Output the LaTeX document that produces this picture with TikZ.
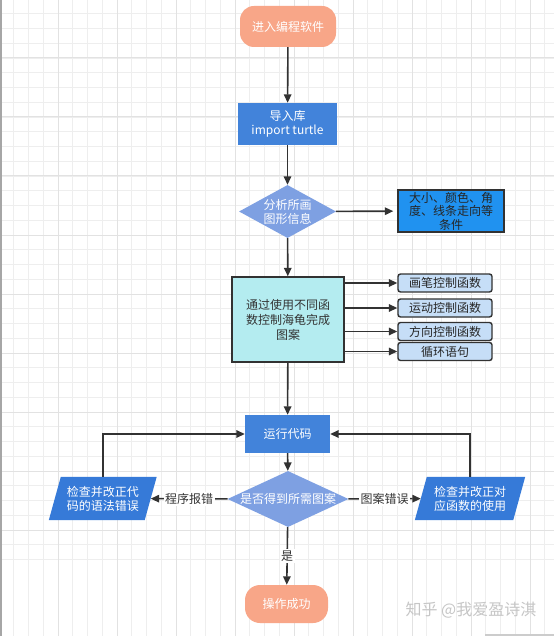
\documentclass[tikz,border=0pt]{standalone}
\usepackage{fontspec}
\setmainfont{Noto Sans CJK SC}
\usetikzlibrary{shapes.geometric,arrows.meta}
\definecolor{salmon}{RGB}{248,166,136}
\definecolor{midblue}{RGB}{66,131,218}
\definecolor{dia}{RGB}{126,160,226}
\definecolor{brightblue}{RGB}{32,146,240}
\definecolor{cyanfill}{RGB}{180,236,240}
\definecolor{lightfn}{RGB}{198,222,247}
\definecolor{parblue}{RGB}{54,122,216}
\definecolor{linec}{RGB}{50,50,50}
\definecolor{gridminor}{RGB}{238,238,238}
\definecolor{gridmajor}{RGB}{226,226,226}
\pgfdeclarelayer{gridlayer}
\pgfdeclarelayer{bg}
\pgfsetlayers{gridlayer,bg,main}
\tikzset{
  txt/.style={font=\fontsize{12}{14}\selectfont, align=center, inner sep=0pt},
  pill/.style={txt, fill=salmon, text=white, rounded corners=14pt},
  bluebox/.style={txt, fill=midblue, text=white},
  diam/.style={txt, diamond, fill=dia, text=white},
  brightbox/.style={txt, fill=brightblue, draw=linec, line width=1.4pt, text=black!85, font=\fontsize{12}{13.5}\selectfont},
  cyanbox/.style={txt, fill=cyanfill, draw=linec, line width=1.4pt, text=black!80, font=\fontsize{12}{15}\selectfont},
  fnbox/.style={txt, fill=lightfn, draw=linec, line width=1.4pt, rounded corners=2.5pt, text=black!85, minimum width=94pt, minimum height=18pt},
  parnode/.style={txt, text=white, minimum height=43pt},
  arr/.style={draw=linec, line width=1.6pt, -{Triangle[length=8.5pt,width=7.5pt]}},
  lbl/.style={txt, fill=white, text=black!80, inner sep=1.5pt}
}
\begin{document}
\begin{tikzpicture}[x=1pt,y=-1pt]
\useasboundingbox (0,0) rectangle (554,636);
\begin{pgfonlayer}{gridlayer}
\fill[white] (0,0) rectangle (554,636);
\foreach \k in {0,...,38} {
  \pgfmathsetmacro\p{-1+\k*14.75}
  \draw[gridminor, line width=0.8pt] (\p,0) -- (\p,636);
  \draw[gridminor, line width=0.8pt] (0,\p) -- (554,\p);
}
\foreach \k in {0,4,...,36} {
  \pgfmathsetmacro\p{-1+\k*14.75}
  \draw[gridmajor, line width=1pt] (\p,0) -- (\p,636);
  \draw[gridmajor, line width=1pt] (0,\p) -- (554,\p);
}
\draw[gray!70, line width=1.2pt] (1,0) -- (1,636);
\draw[gray!40, line width=1.2pt] (485,635) -- (554,635);
\end{pgfonlayer}

\node[pill, minimum width=96pt, minimum height=41pt] (start) at (288,26.5) {进入编程软件};
\node[bluebox, minimum width=99pt, minimum height=42pt] (imp) at (287.5,124) {导入库\\import turtle};
\node[diam, minimum width=97pt, minimum height=53pt, aspect=1.83] (ana) at (287.5,211.5) {分析所画\\图形信息};
\node[brightbox, minimum width=106pt, minimum height=42pt] (cond) at (451,211) {大小、颜色、角\\度、线条走向等\\条件};
\node[cyanbox, minimum width=112pt, minimum height=85pt] (use) at (288,319.5) {通过使用不同函\\数控制海龟完成\\图案};
\node[fnbox] (f1) at (445,283) {画笔控制函数};
\node[fnbox] (f2) at (445,308) {运动控制函数};
\node[fnbox] (f3) at (445,331.5) {方向控制函数};
\node[fnbox] (f4) at (445,351.5) {循环语句};
\node[bluebox, minimum width=85pt, minimum height=38pt] (run) at (287.5,434) {运行代码};
\node[diam, minimum width=121pt, minimum height=56pt, aspect=2.16] (d2) at (288,499) {是否得到所需图案};
\node[parnode, minimum width=95.5pt] (L) at (102.75,498.5) {检查并改正代\\码的语法错误};
\node[parnode, minimum width=98pt] (R) at (470,498.5) {检查并改正对\\应函数的使用};
\node[pill, minimum width=83pt, minimum height=38pt, rounded corners=15pt] (end) at (286.5,604) {操作成功};
\node[txt, text=gray!45, font=\fontsize{16}{16}\selectfont] (wm) at (471,610) {知乎 @我爱盈诗淇};

\begin{pgfonlayer}{bg}
\fill[parblue] ([xshift=6pt]L.north west) -- ([xshift=6pt]L.north east) -- ([xshift=-6pt]L.south east) -- ([xshift=-6pt]L.south west) -- cycle;
\fill[parblue] ([xshift=6pt]R.north west) -- ([xshift=6pt]R.north east) -- ([xshift=-6pt]R.south east) -- ([xshift=-6pt]R.south west) -- cycle;
\end{pgfonlayer}

\draw[arr] (start) -- (imp);
\draw[arr] (imp) -- (ana);
\draw[arr, shorten >=4pt] (ana) -- (cond);
\draw[arr] (ana) -- (use);
\foreach \f in {f1,f2,f3,f4} { \draw[arr] (use.east |- \f.west) -- (\f.west); }
\draw[arr] (use) -- (run);
\draw[arr] (run) -- (d2);
\draw[arr] (d2) -- node[lbl] {程序报错} (L);
\draw[arr] (d2) -- node[lbl] {图案错误} (R);
\draw[arr] (d2) -- node[lbl] {是} (end);
\draw[arr] (L.north) |- (run.west);
\draw[arr] (R.north) |- (run.east);
\end{tikzpicture}
\end{document}
